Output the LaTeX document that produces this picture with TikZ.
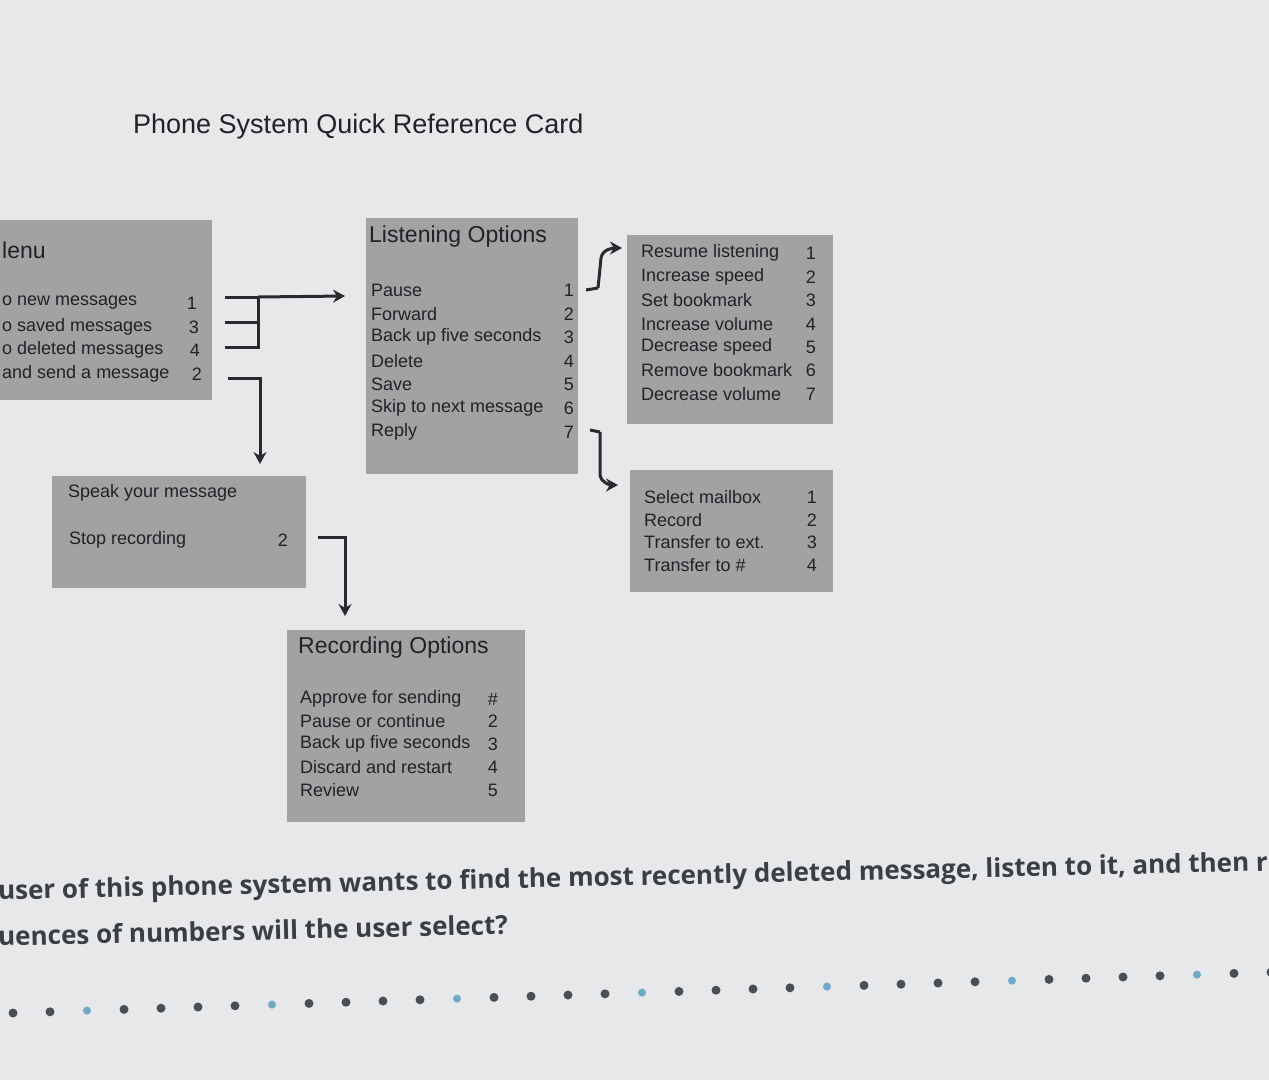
\documentclass[tikz,border=0pt]{standalone}
\usepackage{fontspec}
\setmainfont{Liberation Sans}
\newfontfamily\qfont{Open Sans}
\usetikzlibrary{arrows.meta}
\definecolor{boxgray}{HTML}{A2A2A4}
\definecolor{txt}{HTML}{222226}
\definecolor{linec}{HTML}{2A2A2E}
\definecolor{bg}{HTML}{E6E8EA}
\definecolor{dotc}{HTML}{4A4E55}
\definecolor{dotb}{HTML}{6FA9C8}
\tikzset{
 box/.style={fill=boxgray, draw=none},
 t/.style={anchor=west, inner sep=0, text=txt, font=\fontsize{18}{20}\selectfont},
 n/.style={anchor=east, inner sep=0, text=txt, font=\fontsize{18}{20}\selectfont},
 h/.style={anchor=west, inner sep=0, text=txt, font=\fontsize{23}{25}\selectfont},
 ln/.style={line width=3pt, draw=linec},
 arr/.style={ln, -{Stealth[length=12pt,width=13pt]}},
 qs/.style={anchor=west, inner sep=0, rotate=1.3, text=dotc!80!black, font=\qfont\bfseries\fontsize{26}{28}\selectfont}
}
\begin{document}
\begin{tikzpicture}[x=1pt,y=-1pt]
\useasboundingbox (0,0) rectangle (1269,1080);
\clip (0,0) rectangle (1269,1080);
\fill[bg] (0,0) rectangle (1269,1080);
\node[anchor=west, inner sep=0, text=txt, font=\fontsize{27}{29}\selectfont] (title) at (133,127) {Phone System Quick Reference Card};
% Menu
\fill[box] (-5,220) rectangle (212,400);
\node[h] (mh) at (2,250) {lenu};
\node[t] (m1) at (2,303) {o new messages};
\node[t] (m2) at (2,327) {o saved messages};
\node[t] (m3) at (2,350) {o deleted messages};
\node[t] (m4) at (2,374) {and send a message};
\node[n] at (197,303) {1};\node[n] at (199,327) {3};\node[n] at (200,350) {4};\node[n] at (202,374) {2};
% Listening
\fill[box] (366,218) rectangle (578,474);
\node[h] (lh) at (369,237) {Listening Options};
\foreach \s/\y/\k in {Pause/290/1,Forward/314/2,Back up five seconds/337/3,Delete/361/4,Save/384/5,Skip to next message/408/6,Reply/432/7}{
 \node[t] at (371,\y) {\s}; \node[n] at (574,\y) {\k};}
% Resume
\fill[box] (627,235) rectangle (833,424);
\foreach \s/\y/\k in {Resume listening/253/1,Increase speed/277/2,Set bookmark/300/3,Increase volume/324/4,Decrease speed/347/5,Remove bookmark/370/6,Decrease volume/394/7}{
 \node[t] at (641,\y) {\s}; \node[n] at (816,\y) {\k};}
% Select mailbox
\fill[box] (630,470) rectangle (833,592);
\foreach \s/\y/\k in {Select mailbox/497/1,Record/520/2,Transfer to ext./542/3,Transfer to \#/565/4}{
 \node[t] at (644,\y) {\s}; \node[n] at (817,\y) {\k};}
% Speak
\fill[box] (52,476) rectangle (306,588);
\node[t] (sp) at (68,493) {Speak your message};
\node[t] (st) at (69,540) {Stop recording};
\node[n] at (288,540) {2};
% Recording
\fill[box] (287,630) rectangle (525,822);
\node[h] (rh) at (298,648) {Recording Options};
\foreach \s/\y/\k in {Approve for sending/699/\#,Pause or continue/721/2,Back up five seconds/744/3,Discard and restart/767/4,Review/790/5}{
 \node[t] at (300,\y) {\s}; \node[n] at (498,\y) {\k};}
% connectors
\coordinate (j) at (258,297); \coordinate (aEnd) at (345,296);
\draw[ln] (225,297) -- (j) (225,322) -- (258,322) (225,347) -- (258,347) (j) -- (258,348.5);
\draw[arr] (j) -- (aEnd);
\draw[arr] (228,378) -- (260,378) -- (260,464);
\draw[arr] (318,537) -- (345,537) -- (345,616);
\draw[ln] (586,290) -- (598,288);
\draw[arr] (598,288) -- (601,258) to[out=80,in=180] (622,248);
\draw[ln] (590,430) -- (600,432);
\draw[arr] (600,432) -- (600,475) to[out=-80,in=180] (618,485);
% question
\node[qs] (q1) at (-2,893) {user of this phone system wants to find the most recently deleted message, listen to it, and then r};
\node[qs] (q2) at (-2,936) {uences of numbers will the user select?};
\foreach \i in {0,...,34}{
 \pgfmathsetmacro\xx{13+37*\i}
 \pgfmathsetmacro\yy{1013-1.2*\i}
 \pgfmathtruncatemacro\m{mod(\i,5)}
 \ifnum\m=2 \fill[dotb] (\xx,\yy) circle (4pt); \else \fill[dotc] (\xx,\yy) circle (4.5pt); \fi}
\end{tikzpicture}
\end{document}
